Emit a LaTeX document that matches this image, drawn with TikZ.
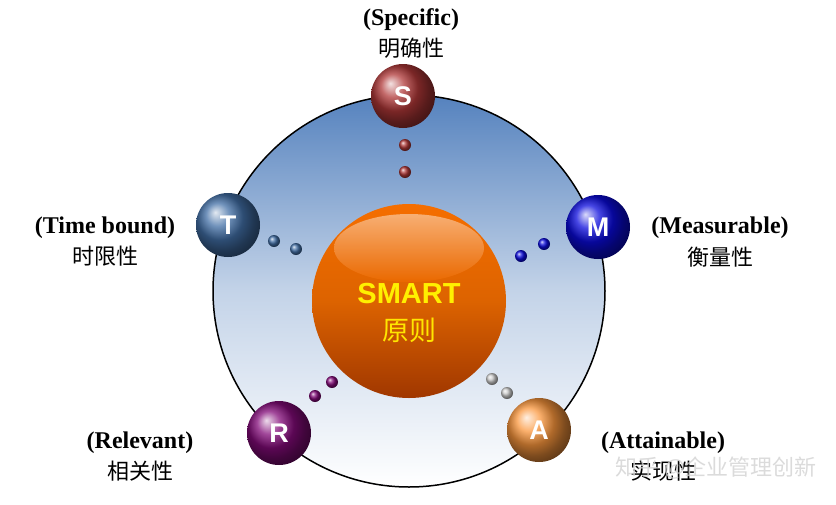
\documentclass[tikz,border=0pt]{standalone}
\usepackage{fontspec}
\setmainfont{Liberation Serif}
\setsansfont{Liberation Sans}
\newfontfamily\cjk{Noto Sans CJK SC}
\usetikzlibrary{shapes.geometric}
\begin{document}
\begin{tikzpicture}[x=1pt,y=-1pt,
  lbl/.style={font=\fontsize{24}{26}\selectfont\bfseries, align=center},
  cjklbl/.style={font=\fontsize{22}{24}\selectfont\cjk},
  bigball/.style={circle, minimum size=64pt, inner sep=0pt, text=white, font=\fontsize{27}{29}\selectfont\sffamily\bfseries},
  dot/.style={circle, minimum size=12pt, inner sep=0pt}]
\useasboundingbox (0,0) rectangle (836,504);
\definecolor{sred}{RGB}{175,55,55}
\definecolor{tblue}{RGB}{65,110,165}
\definecolor{mblue}{RGB}{10,10,220}
\definecolor{rpur}{RGB}{130,10,120}
\definecolor{aor}{RGB}{250,150,60}
\definecolor{topblue}{RGB}{85,130,190}
\definecolor{coreTop}{RGB}{245,110,0}
\definecolor{coreBot}{RGB}{160,55,0}
\node[circle, draw=black, line width=1.5pt, minimum size=392pt, inner sep=0pt, top color=topblue, bottom color=white, middle color=topblue!35!white] (ring) at (409,291) {};
\node[circle, minimum size=194pt, inner sep=0pt, top color=coreTop, bottom color=coreBot, middle color=coreTop!90!black] (core) at (409,301) {};
\node[ellipse, minimum width=150pt, minimum height=68pt, inner sep=0pt, top color=white, bottom color=coreTop, opacity=0.45] (hl) at (409,248) {};
\node[font=\fontsize{29}{31}\selectfont\sffamily\bfseries, text={rgb,255:red,255;green,240;blue,0}] (smart) at (409,294) {SMART};
\node[font=\fontsize{27}{29}\selectfont\cjk, text={rgb,255:red,255;green,230;blue,0}] (yuanze) at (409,330) {原则};
\foreach \n/\x/\y/\c in {d1/405/145/sred, d2/405/172/sred, d3/274/241/tblue, d4/296/249/tblue, d5/544/244/mblue, d6/521/256/mblue, d7/332/382/rpur, d8/315/396/rpur, d9/492/379/gray!40, d10/507/393/gray!40}
  \node[dot, ball color=\c] (\n) at (\x,\y) {};
\node[bigball, ball color=sred] (S) at (403,96) {S};
\node[bigball, ball color=tblue] (T) at (228,225) {T};
\node[bigball, ball color=mblue] (M) at (598,227) {M};
\node[bigball, ball color=rpur] (R) at (279,433) {R};
\node[bigball, ball color=aor] (A) at (539,430) {A};
\node[lbl] (sl) at (411,20) {(Specific)};
\node[cjklbl] (sc) at (411,48) {明确性};
\node[lbl] (tl) at (105,228) {(Time bound)};
\node[cjklbl] (tc) at (105,256) {时限性};
\node[lbl] (ml) at (720,228) {(Measurable)};
\node[cjklbl] (mc) at (720,257) {衡量性};
\node[lbl] (rl) at (140,443) {(Relevant)};
\node[cjklbl] (rc) at (140,471) {相关性};
\node[lbl] (al) at (663,443) {(Attainable)};
\node[cjklbl] (ac) at (663,471) {实现性};
\node[font=\fontsize{22}{24}\selectfont\cjk, text=gray!35, opacity=0.8] (wm) at (716,468) {知乎 @企业管理创新};
\end{tikzpicture}
\end{document}
